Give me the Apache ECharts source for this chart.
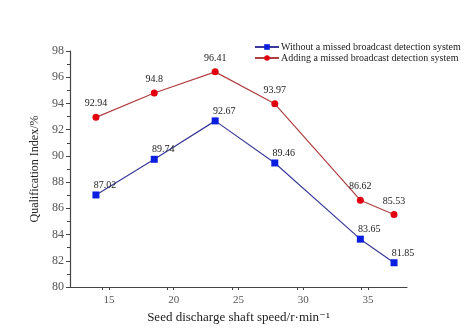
<!DOCTYPE html>
<html><head><meta charset="utf-8">
<script src="https://cdn.jsdelivr.net/npm/echarts@6/dist/echarts.min.js"></script>
<style>html,body{margin:0;padding:0;background:#fff}#c{width:474px;height:332px}</style>
</head><body><div id="c"></div>
<script>
var speeds = [14, 18.5, 23.2, 27.8, 34.4, 37];
var withoutSystem = [87.02, 89.74, 92.67, 89.46, 83.65, 81.85];
var withSystem = [92.94, 94.8, 96.41, 93.97, 86.62, 85.53];
var seriesNames = ['Without a missed broadcast detection system', 'Adding a missed broadcast detection system'];
var xTicks = [15, 20, 25, 30, 35];
var xTitle = 'Seed discharge shaft speed/r\u00b7min\u207b\u00b9';
var yTitle = 'Qualification Index/%';

function pairs(xs, ys){ return xs.map(function(x,i){ return [x, ys[i]]; }); }
var font = '"Liberation Serif", "DejaVu Serif", serif';
var chart = echarts.init(document.getElementById('c'));
chart.setOption({
  animation: false,
  textStyle: {fontFamily: font},
  grid: {left: 70, right: 67, top: 51, bottom: 45},
  legend: {
    orient: 'vertical', left: 249, top: 37, itemGap: 1,
    itemWidth: 24, itemHeight: 7,
    textStyle: {fontFamily: font, fontSize: 10, color: '#222', padding: [0, 0, 0, -3]},
    data: seriesNames
  },
  xAxis: {
    type: 'value', min: 12, max: 38, interval: 5,
    name: xTitle, nameLocation: 'middle', nameGap: 24,
    nameTextStyle: {fontFamily: font, fontSize: 13, color: '#222'},
    axisLine: {show: true, lineStyle: {color: '#444', width: 1.2}},
    axisTick: {show: true, length: 3, lineStyle: {color: '#444'}, customValues: xTicks},
    minorTick: {show: true, splitNumber: 2, length: 3, lineStyle: {color: '#444'}},
    axisLabel: {fontFamily: font, fontSize: 11, color: '#555', customValues: xTicks},
    splitLine: {show: false}
  },
  yAxis: {
    type: 'value', min: 80, max: 98, interval: 2,
    name: yTitle, nameLocation: 'middle', nameGap: 26,
    nameTextStyle: {fontFamily: font, fontSize: 12, color: '#222'},
    axisLine: {show: true, lineStyle: {color: '#444', width: 1.2}},
    axisTick: {show: true, length: 4, lineStyle: {color: '#444'}},
    minorTick: {show: true, splitNumber: 2, length: 3, lineStyle: {color: '#444'}},
    axisLabel: {fontFamily: font, fontSize: 12, color: '#555', margin: 6},
    splitLine: {show: false}
  },
  series: [
    {
      name: seriesNames[0], type: 'line', data: pairs(speeds, withoutSystem),
      symbol: 'rect', symbolSize: 7,
      lineStyle: {color: '#3a3a9a', width: 1.2},
      itemStyle: {color: '#0a1ee0'},
      label: {show: true, position: 'top', distance: 1, offset: [9, 0], fontFamily: font, fontSize: 10, color: '#222'}
    },
    {
      name: seriesNames[1], type: 'line', data: pairs(speeds, withSystem),
      symbol: 'circle', symbolSize: 7,
      lineStyle: {color: '#b04040', width: 1.2},
      itemStyle: {color: '#e00010'},
      label: {show: true, position: 'top', distance: 5, fontFamily: font, fontSize: 10, color: '#222'}
    }
  ]
});
</script></body></html>
